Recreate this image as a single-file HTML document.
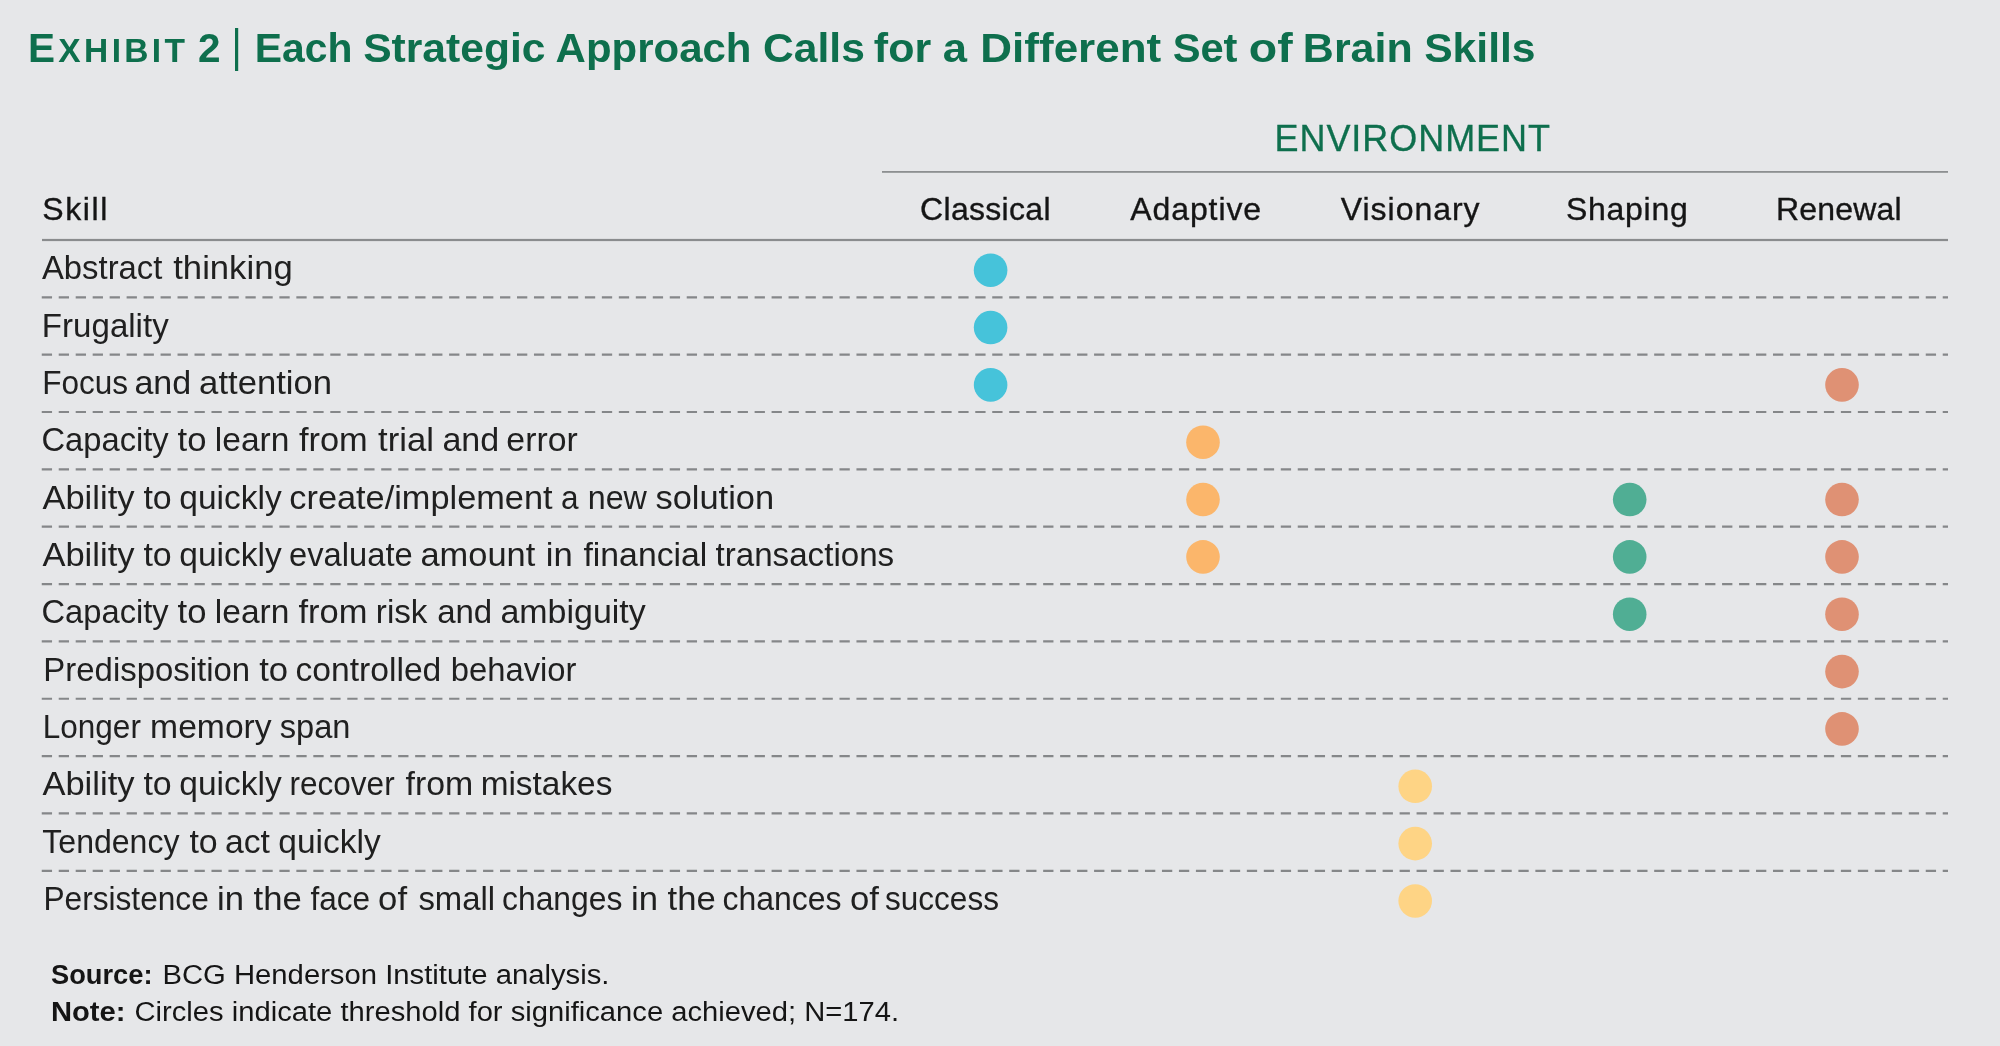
<!DOCTYPE html>
<html><head><meta charset="utf-8"><title>Exhibit 2</title>
<style>
html,body{margin:0;padding:0;background:#e6e7e9;}
body{width:2000px;height:1046px;overflow:hidden;}
svg{display:block;font-family:"Liberation Sans", sans-serif;will-change:transform;-webkit-font-smoothing:antialiased;}
</style></head><body>
<svg width="2000" height="1046" viewBox="0 0 2000 1046">
<rect width="2000" height="1046" fill="#e6e7e9"/>
<text x="28" y="62.3" fill="#0e6f4d" font-weight="bold" font-size="40.5" textLength="157" lengthAdjust="spacing">E<tspan font-size="33.5">XHIBIT</tspan></text>
<text x="198" y="62.3" fill="#0e6f4d" font-weight="bold" font-size="40.5" textLength="22" lengthAdjust="spacing">2</text>
<rect x="235" y="28" width="3.2" height="43" fill="#0e6f4d"/>
<text x="254.89" y="62.3" fill="#0e6f4d" font-weight="bold" font-size="40.5" textLength="97.63" lengthAdjust="spacingAndGlyphs">Each</text>
<text x="363.16" y="62.3" fill="#0e6f4d" font-weight="bold" font-size="40.5" textLength="182.31" lengthAdjust="spacingAndGlyphs">Strategic</text>
<text x="555.57" y="62.3" fill="#0e6f4d" font-weight="bold" font-size="40.5" textLength="195.91" lengthAdjust="spacingAndGlyphs">Approach</text>
<text x="763.12" y="62.3" fill="#0e6f4d" font-weight="bold" font-size="40.5" textLength="101.76" lengthAdjust="spacingAndGlyphs">Calls</text>
<text x="873.85" y="62.3" fill="#0e6f4d" font-weight="bold" font-size="40.5" textLength="57.30" lengthAdjust="spacingAndGlyphs">for</text>
<text x="942.68" y="62.3" fill="#0e6f4d" font-weight="bold" font-size="40.5" textLength="24.24" lengthAdjust="spacingAndGlyphs">a</text>
<text x="980.35" y="62.3" fill="#0e6f4d" font-weight="bold" font-size="40.5" textLength="180.88" lengthAdjust="spacingAndGlyphs">Different</text>
<text x="1172.67" y="62.3" fill="#0e6f4d" font-weight="bold" font-size="40.5" textLength="64.85" lengthAdjust="spacingAndGlyphs">Set</text>
<text x="1248.78" y="62.3" fill="#0e6f4d" font-weight="bold" font-size="40.5" textLength="43.88" lengthAdjust="spacingAndGlyphs">of</text>
<text x="1302.88" y="62.3" fill="#0e6f4d" font-weight="bold" font-size="40.5" textLength="109.77" lengthAdjust="spacingAndGlyphs">Brain</text>
<text x="1424.16" y="62.3" fill="#0e6f4d" font-weight="bold" font-size="40.5" textLength="111.42" lengthAdjust="spacingAndGlyphs">Skills</text>
<text x="1274.5" y="151.1" fill="#0e6f4d" stroke="#0e6f4d" stroke-width="0.3" font-size="36" textLength="275.5" lengthAdjust="spacing">ENVIRONMENT</text>
<rect x="882" y="171" width="1066" height="1.8" fill="#8d8f91"/>
<text x="42.3" y="219.8" fill="#151515" stroke="#151515" stroke-width="0.35" font-size="32" textLength="65.0" lengthAdjust="spacing">Skill</text>
<text x="920.1" y="219.8" fill="#151515" stroke="#151515" stroke-width="0.35" font-size="32" textLength="130.39999999999998" lengthAdjust="spacing">Classical</text>
<text x="1130.3" y="219.8" fill="#151515" stroke="#151515" stroke-width="0.35" font-size="32" textLength="130.79999999999995" lengthAdjust="spacing">Adaptive</text>
<text x="1340.8" y="219.8" fill="#151515" stroke="#151515" stroke-width="0.35" font-size="32" textLength="138.79999999999995" lengthAdjust="spacing">Visionary</text>
<text x="1566.0" y="219.8" fill="#151515" stroke="#151515" stroke-width="0.35" font-size="32" textLength="121.70000000000005" lengthAdjust="spacing">Shaping</text>
<text x="1776.1" y="219.8" fill="#151515" stroke="#151515" stroke-width="0.35" font-size="32" textLength="125.5" lengthAdjust="spacing">Renewal</text>
<rect x="42" y="238.9" width="1906" height="2.2" fill="#8a8c8e"/>
<line x1="41.75" y1="297.30" x2="1948" y2="297.30" stroke="#858789" stroke-width="2.2" stroke-dasharray="10.3 6.673"/>
<line x1="41.75" y1="354.65" x2="1948" y2="354.65" stroke="#858789" stroke-width="2.2" stroke-dasharray="10.3 6.673"/>
<line x1="41.75" y1="412.00" x2="1948" y2="412.00" stroke="#858789" stroke-width="2.2" stroke-dasharray="10.3 6.673"/>
<line x1="41.75" y1="469.35" x2="1948" y2="469.35" stroke="#858789" stroke-width="2.2" stroke-dasharray="10.3 6.673"/>
<line x1="41.75" y1="526.70" x2="1948" y2="526.70" stroke="#858789" stroke-width="2.2" stroke-dasharray="10.3 6.673"/>
<line x1="41.75" y1="584.05" x2="1948" y2="584.05" stroke="#858789" stroke-width="2.2" stroke-dasharray="10.3 6.673"/>
<line x1="41.75" y1="641.40" x2="1948" y2="641.40" stroke="#858789" stroke-width="2.2" stroke-dasharray="10.3 6.673"/>
<line x1="41.75" y1="698.75" x2="1948" y2="698.75" stroke="#858789" stroke-width="2.2" stroke-dasharray="10.3 6.673"/>
<line x1="41.75" y1="756.10" x2="1948" y2="756.10" stroke="#858789" stroke-width="2.2" stroke-dasharray="10.3 6.673"/>
<line x1="41.75" y1="813.45" x2="1948" y2="813.45" stroke="#858789" stroke-width="2.2" stroke-dasharray="10.3 6.673"/>
<line x1="41.75" y1="870.80" x2="1948" y2="870.80" stroke="#858789" stroke-width="2.2" stroke-dasharray="10.3 6.673"/>
<text x="41.97" y="279.30" fill="#202020" font-size="33" textLength="120.37" lengthAdjust="spacingAndGlyphs">Abstract</text>
<text x="173.24" y="279.30" fill="#202020" font-size="33" textLength="119.45" lengthAdjust="spacingAndGlyphs">thinking</text>
<text x="41.88" y="336.65" fill="#202020" font-size="33" textLength="126.83" lengthAdjust="spacingAndGlyphs">Frugality</text>
<text x="42.16" y="394.00" fill="#202020" font-size="33" textLength="85.83" lengthAdjust="spacingAndGlyphs">Focus</text>
<text x="134.41" y="394.00" fill="#202020" font-size="33" textLength="56.78" lengthAdjust="spacingAndGlyphs">and</text>
<text x="199.12" y="394.00" fill="#202020" font-size="33" textLength="132.97" lengthAdjust="spacingAndGlyphs">attention</text>
<text x="41.53" y="451.35" fill="#202020" font-size="33" textLength="127.13" lengthAdjust="spacingAndGlyphs">Capacity</text>
<text x="177.59" y="451.35" fill="#202020" font-size="33" textLength="28.91" lengthAdjust="spacingAndGlyphs">to</text>
<text x="214.79" y="451.35" fill="#202020" font-size="33" textLength="74.59" lengthAdjust="spacingAndGlyphs">learn</text>
<text x="299.01" y="451.35" fill="#202020" font-size="33" textLength="68.76" lengthAdjust="spacingAndGlyphs">from</text>
<text x="378.04" y="451.35" fill="#202020" font-size="33" textLength="55.83" lengthAdjust="spacingAndGlyphs">trial</text>
<text x="442.41" y="451.35" fill="#202020" font-size="33" textLength="56.78" lengthAdjust="spacingAndGlyphs">and</text>
<text x="506.37" y="451.35" fill="#202020" font-size="33" textLength="71.32" lengthAdjust="spacingAndGlyphs">error</text>
<text x="42.40" y="508.70" fill="#202020" font-size="33" textLength="92.11" lengthAdjust="spacingAndGlyphs">Ability</text>
<text x="143.45" y="508.70" fill="#202020" font-size="33" textLength="28.28" lengthAdjust="spacingAndGlyphs">to</text>
<text x="179.29" y="508.70" fill="#202020" font-size="33" textLength="102.39" lengthAdjust="spacingAndGlyphs">quickly</text>
<text x="289.30" y="508.70" fill="#202020" font-size="33" textLength="263.22" lengthAdjust="spacingAndGlyphs">create/implement</text>
<text x="560.91" y="508.70" fill="#202020" font-size="33" textLength="17.53" lengthAdjust="spacingAndGlyphs">a</text>
<text x="587.70" y="508.70" fill="#202020" font-size="33" textLength="59.19" lengthAdjust="spacingAndGlyphs">new</text>
<text x="655.47" y="508.70" fill="#202020" font-size="33" textLength="118.59" lengthAdjust="spacingAndGlyphs">solution</text>
<text x="42.40" y="566.05" fill="#202020" font-size="33" textLength="92.11" lengthAdjust="spacingAndGlyphs">Ability</text>
<text x="143.45" y="566.05" fill="#202020" font-size="33" textLength="28.28" lengthAdjust="spacingAndGlyphs">to</text>
<text x="179.29" y="566.05" fill="#202020" font-size="33" textLength="102.39" lengthAdjust="spacingAndGlyphs">quickly</text>
<text x="289.09" y="566.05" fill="#202020" font-size="33" textLength="123.60" lengthAdjust="spacingAndGlyphs">evaluate</text>
<text x="420.48" y="566.05" fill="#202020" font-size="33" textLength="114.84" lengthAdjust="spacingAndGlyphs">amount</text>
<text x="545.74" y="566.05" fill="#202020" font-size="33" textLength="26.97" lengthAdjust="spacingAndGlyphs">in</text>
<text x="583.50" y="566.05" fill="#202020" font-size="33" textLength="123.75" lengthAdjust="spacingAndGlyphs">financial</text>
<text x="715.50" y="566.05" fill="#202020" font-size="33" textLength="178.70" lengthAdjust="spacingAndGlyphs">transactions</text>
<text x="41.53" y="623.40" fill="#202020" font-size="33" textLength="127.13" lengthAdjust="spacingAndGlyphs">Capacity</text>
<text x="177.59" y="623.40" fill="#202020" font-size="33" textLength="28.91" lengthAdjust="spacingAndGlyphs">to</text>
<text x="214.79" y="623.40" fill="#202020" font-size="33" textLength="74.59" lengthAdjust="spacingAndGlyphs">learn</text>
<text x="298.50" y="623.40" fill="#202020" font-size="33" textLength="68.94" lengthAdjust="spacingAndGlyphs">from</text>
<text x="375.83" y="623.40" fill="#202020" font-size="33" textLength="51.61" lengthAdjust="spacingAndGlyphs">risk</text>
<text x="437.17" y="623.40" fill="#202020" font-size="33" textLength="55.05" lengthAdjust="spacingAndGlyphs">and</text>
<text x="500.45" y="623.40" fill="#202020" font-size="33" textLength="145.26" lengthAdjust="spacingAndGlyphs">ambiguity</text>
<text x="43.37" y="680.75" fill="#202020" font-size="33" textLength="206.76" lengthAdjust="spacingAndGlyphs">Predisposition</text>
<text x="259.18" y="680.75" fill="#202020" font-size="33" textLength="28.91" lengthAdjust="spacingAndGlyphs">to</text>
<text x="295.44" y="680.75" fill="#202020" font-size="33" textLength="145.87" lengthAdjust="spacingAndGlyphs">controlled</text>
<text x="450.76" y="680.75" fill="#202020" font-size="33" textLength="125.72" lengthAdjust="spacingAndGlyphs">behavior</text>
<text x="42.76" y="738.10" fill="#202020" font-size="33" textLength="98.16" lengthAdjust="spacingAndGlyphs">Longer</text>
<text x="150.12" y="738.10" fill="#202020" font-size="33" textLength="121.55" lengthAdjust="spacingAndGlyphs">memory</text>
<text x="279.78" y="738.10" fill="#202020" font-size="33" textLength="70.71" lengthAdjust="spacingAndGlyphs">span</text>
<text x="42.40" y="795.45" fill="#202020" font-size="33" textLength="92.11" lengthAdjust="spacingAndGlyphs">Ability</text>
<text x="143.45" y="795.45" fill="#202020" font-size="33" textLength="28.28" lengthAdjust="spacingAndGlyphs">to</text>
<text x="179.29" y="795.45" fill="#202020" font-size="33" textLength="102.39" lengthAdjust="spacingAndGlyphs">quickly</text>
<text x="289.57" y="795.45" fill="#202020" font-size="33" textLength="105.09" lengthAdjust="spacingAndGlyphs">recover</text>
<text x="405.50" y="795.45" fill="#202020" font-size="33" textLength="67.70" lengthAdjust="spacingAndGlyphs">from</text>
<text x="480.67" y="795.45" fill="#202020" font-size="33" textLength="131.68" lengthAdjust="spacingAndGlyphs">mistakes</text>
<text x="42.27" y="852.80" fill="#202020" font-size="33" textLength="137.24" lengthAdjust="spacingAndGlyphs">Tendency</text>
<text x="189.45" y="852.80" fill="#202020" font-size="33" textLength="28.28" lengthAdjust="spacingAndGlyphs">to</text>
<text x="224.94" y="852.80" fill="#202020" font-size="33" textLength="44.96" lengthAdjust="spacingAndGlyphs">act</text>
<text x="278.29" y="852.80" fill="#202020" font-size="33" textLength="102.39" lengthAdjust="spacingAndGlyphs">quickly</text>
<text x="43.46" y="910.15" fill="#202020" font-size="33" textLength="165.30" lengthAdjust="spacingAndGlyphs">Persistence</text>
<text x="217.12" y="910.15" fill="#202020" font-size="33" textLength="26.97" lengthAdjust="spacingAndGlyphs">in</text>
<text x="253.53" y="910.15" fill="#202020" font-size="33" textLength="48.19" lengthAdjust="spacingAndGlyphs">the</text>
<text x="310.39" y="910.15" fill="#202020" font-size="33" textLength="59.58" lengthAdjust="spacingAndGlyphs">face</text>
<text x="378.14" y="910.15" fill="#202020" font-size="33" textLength="28.91" lengthAdjust="spacingAndGlyphs">of</text>
<text x="418.44" y="910.15" fill="#202020" font-size="33" textLength="76.67" lengthAdjust="spacingAndGlyphs">small</text>
<text x="502.03" y="910.15" fill="#202020" font-size="33" textLength="120.38" lengthAdjust="spacingAndGlyphs">changes</text>
<text x="631.12" y="910.15" fill="#202020" font-size="33" textLength="26.97" lengthAdjust="spacingAndGlyphs">in</text>
<text x="667.53" y="910.15" fill="#202020" font-size="33" textLength="48.19" lengthAdjust="spacingAndGlyphs">the</text>
<text x="722.48" y="910.15" fill="#202020" font-size="33" textLength="119.09" lengthAdjust="spacingAndGlyphs">chances</text>
<text x="850.10" y="910.15" fill="#202020" font-size="33" textLength="28.91" lengthAdjust="spacingAndGlyphs">of</text>
<text x="885.07" y="910.15" fill="#202020" font-size="33" textLength="113.85" lengthAdjust="spacingAndGlyphs">success</text>
<circle cx="990.6" cy="270.20" r="16.8" fill="#46c3da"/>
<circle cx="990.6" cy="327.54" r="16.8" fill="#46c3da"/>
<circle cx="990.6" cy="384.88" r="16.8" fill="#46c3da"/>
<circle cx="1203" cy="442.22" r="16.8" fill="#fbb66b"/>
<circle cx="1203" cy="499.56" r="16.8" fill="#fbb66b"/>
<circle cx="1203" cy="556.90" r="16.8" fill="#fbb66b"/>
<circle cx="1415.2" cy="786.26" r="16.8" fill="#fed485"/>
<circle cx="1415.2" cy="843.60" r="16.8" fill="#fed485"/>
<circle cx="1415.2" cy="900.94" r="16.8" fill="#fed485"/>
<circle cx="1629.7" cy="499.56" r="16.8" fill="#50ae94"/>
<circle cx="1629.7" cy="556.90" r="16.8" fill="#50ae94"/>
<circle cx="1629.7" cy="614.24" r="16.8" fill="#50ae94"/>
<circle cx="1842" cy="384.88" r="16.8" fill="#df9174"/>
<circle cx="1842" cy="499.56" r="16.8" fill="#df9174"/>
<circle cx="1842" cy="556.90" r="16.8" fill="#df9174"/>
<circle cx="1842" cy="614.24" r="16.8" fill="#df9174"/>
<circle cx="1842" cy="671.58" r="16.8" fill="#df9174"/>
<circle cx="1842" cy="728.92" r="16.8" fill="#df9174"/>
<text x="51" y="984.2" fill="#151515" font-size="27" font-weight="bold" textLength="101.5" lengthAdjust="spacingAndGlyphs">Source:</text>
<text x="162.5" y="984.2" fill="#151515" font-size="27" textLength="446.9" lengthAdjust="spacingAndGlyphs">BCG Henderson Institute analysis.</text>
<text x="51" y="1020.8" fill="#151515" font-size="27" font-weight="bold" textLength="74.5" lengthAdjust="spacingAndGlyphs">Note:</text>
<text x="134.5" y="1020.8" fill="#151515" font-size="27" textLength="764.6" lengthAdjust="spacingAndGlyphs">Circles indicate threshold for significance achieved; N=174.</text>
</svg>
</body></html>
